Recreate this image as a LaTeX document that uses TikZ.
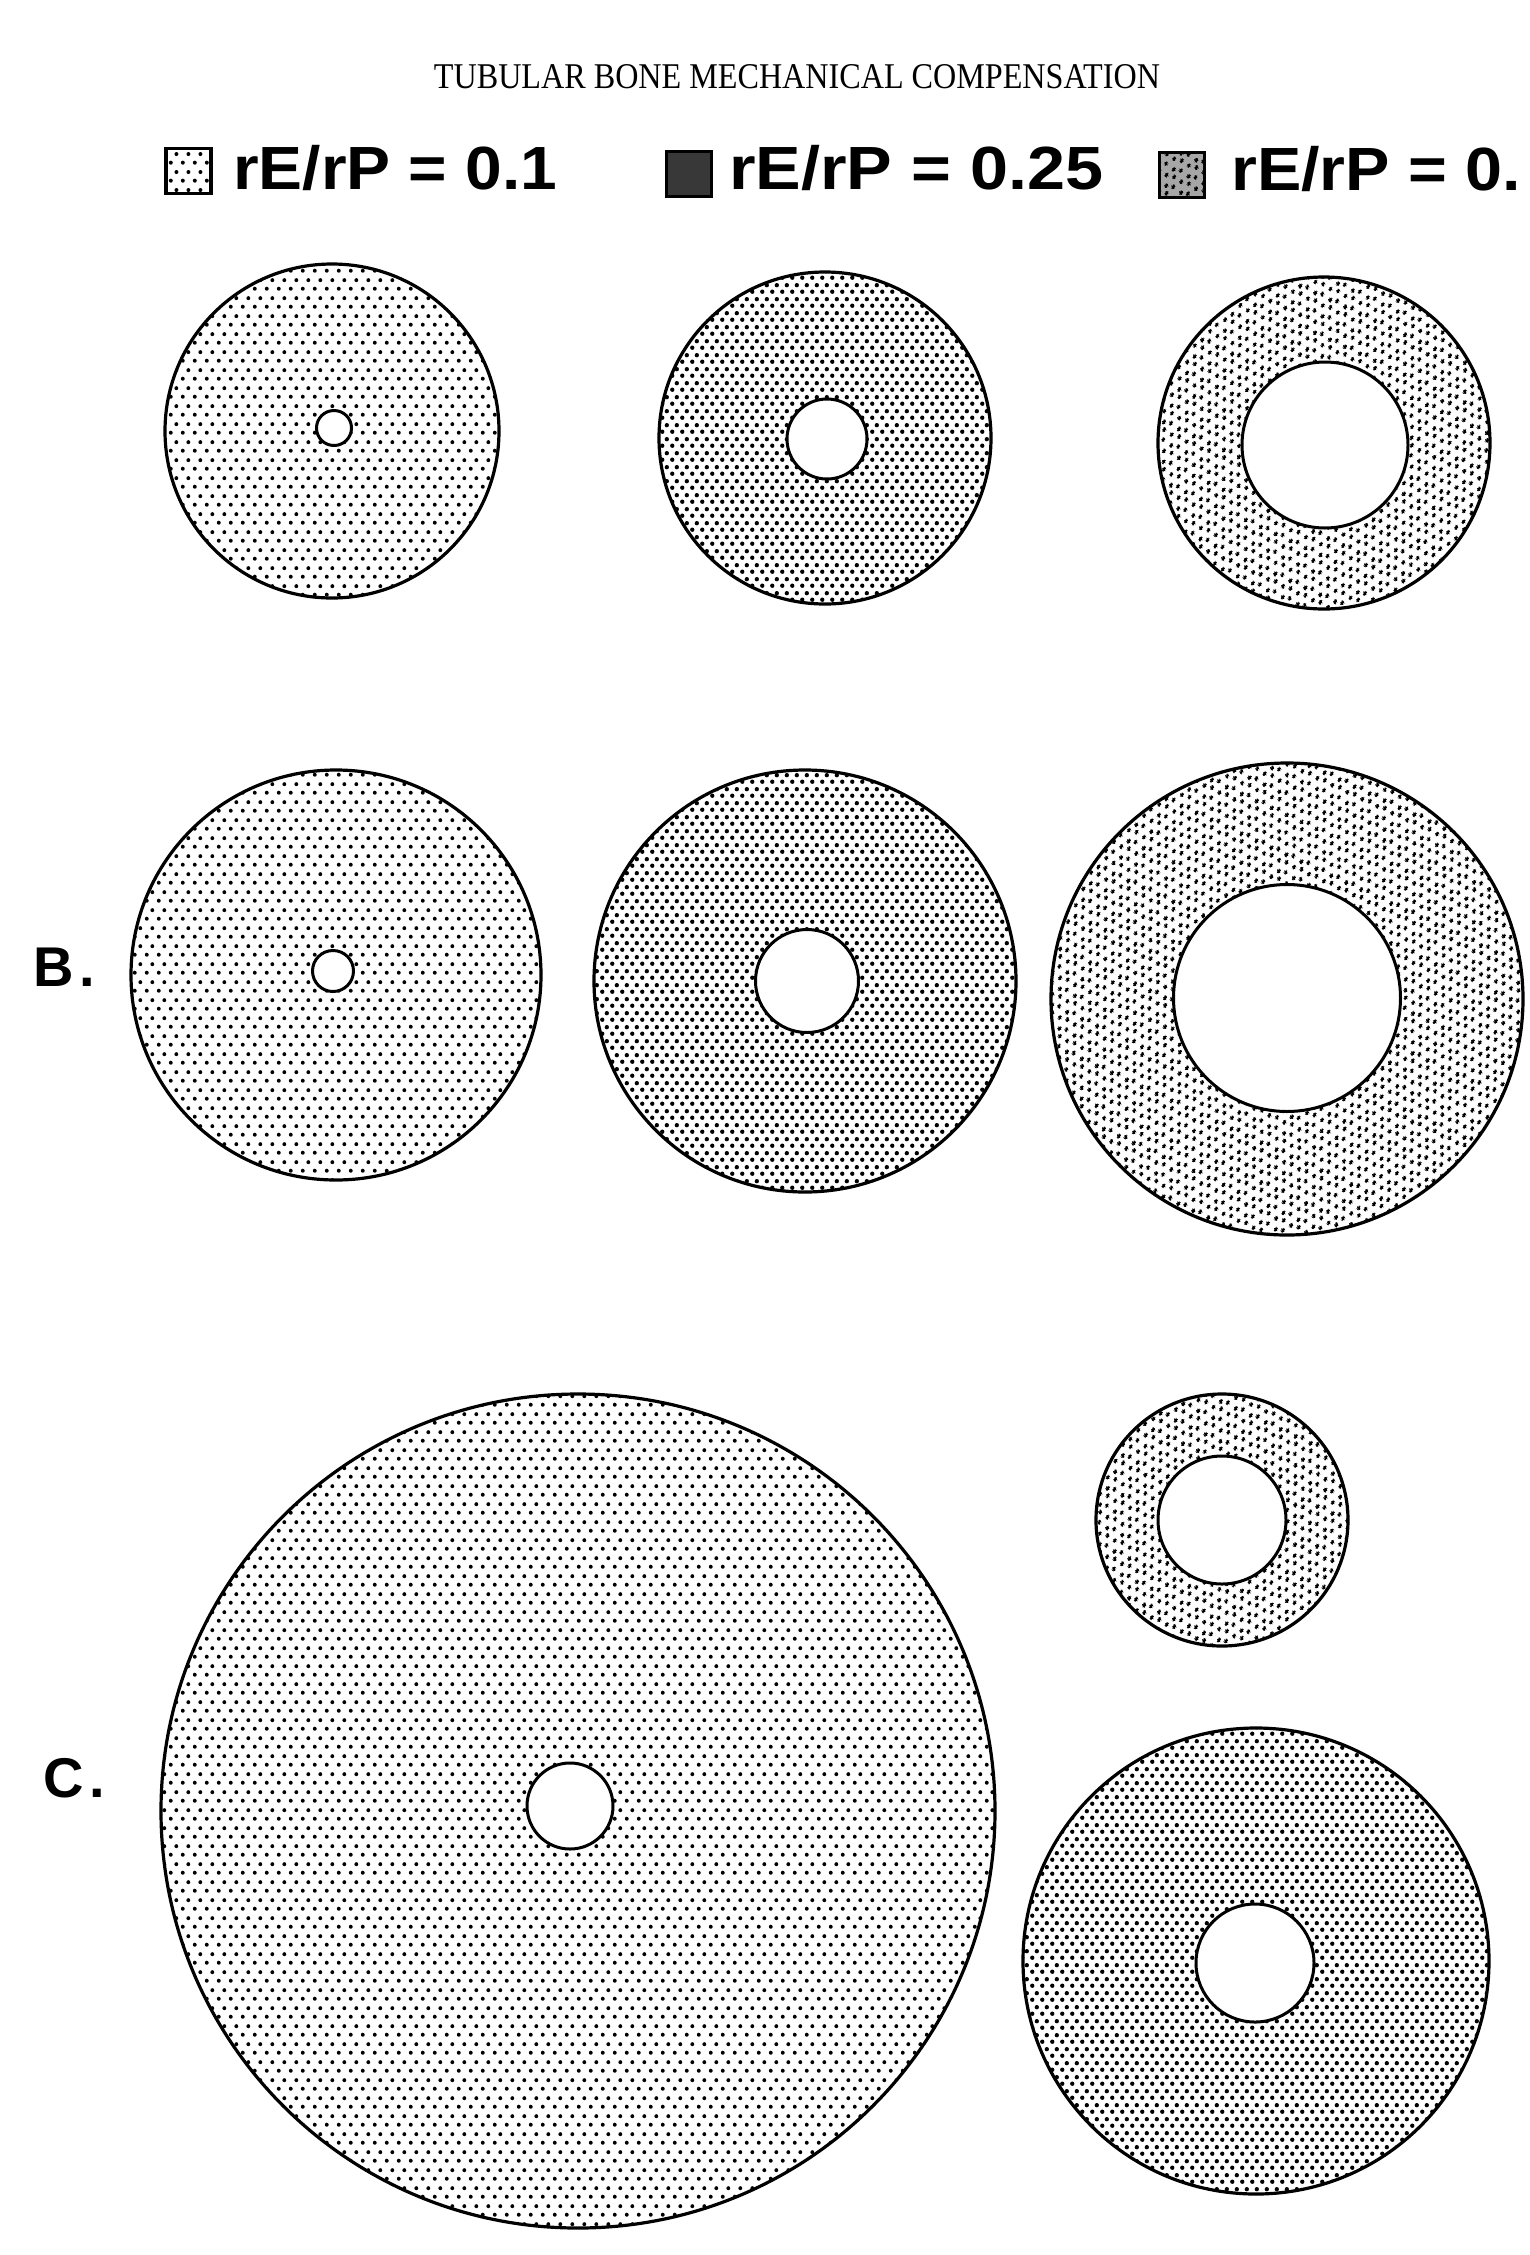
\documentclass[tikz,border=0pt]{standalone}
\usepackage{fontspec}
\usepackage{graphicx}
\newfontfamily\titlefont{Liberation Serif}
\newfontfamily\legfont{Liberation Sans}
\usetikzlibrary{patterns.meta}

\tikzdeclarepattern{
  name=sparsedots, type=uncolored,
  bottom left={(0pt,0pt)}, top right={(12pt,18pt)},
  tile size={(12pt,18pt)},
  code={\fill (3pt,4.5pt) circle (2.1pt); \fill (9pt,13.5pt) circle (2.1pt);}
}
\tikzdeclarepattern{
  name=densedots, type=uncolored,
  bottom left={(0pt,0pt)}, top right={(10pt,14pt)},
  tile size={(10pt,14pt)},
  code={\fill (2.5pt,3.5pt) circle (2.35pt); \fill (7.5pt,10.5pt) circle (2.35pt);}
}
\tikzdeclarepattern{
  name=mottled, type=uncolored,
  bottom left={(0pt,0pt)}, top right={(16pt,18pt)},
  tile size={(16pt,18pt)},
  tile transformation={rotate=-25},
  code={
    \fill (2pt,2.5pt) ellipse (1.8pt and 2.6pt);
    \fill (10pt,4pt) ellipse (1.8pt and 2.6pt);
    \fill (6.5pt,11pt) ellipse (1.8pt and 2.6pt);
    \fill (13.5pt,13pt) ellipse (1.8pt and 2.6pt);
  }
}

\tikzset{
  bone/.style={circle, draw=black, line width=3.2pt, inner sep=0pt, outer sep=0pt, minimum size=#1},
  hole/.style={circle, draw=black, fill=white, line width=3pt, inner sep=0pt, outer sep=0pt, minimum size=#1},
  ratioA/.style={pattern=sparsedots, pattern color=black},
  ratioB/.style={pattern=densedots, pattern color=black},
  ratioC/.style={pattern=mottled, pattern color=black},
  legbox/.style={rectangle, draw=black, line width=3.5pt, inner sep=0pt, minimum width=45pt, minimum height=45pt},
  legtext/.style={inner sep=0pt, anchor=base west, font=\legfont\bfseries\fontsize{61}{70}\selectfont},
  rowlabel/.style={inner sep=0pt, anchor=base west, font=\legfont\bfseries\fontsize{56}{66}\selectfont},
}

\begin{document}
\begin{tikzpicture}[x=1pt, y=-1pt]
\useasboundingbox[fill=white] (0,0) rectangle (1530,2255);

% title
\node[inner sep=0pt] (title) at (797,76.5)
  {\resizebox{726pt}{24pt}{\titlefont TUBULAR BONE MECHANICAL COMPENSATION}};

% legend
\node[legbox, ratioA] (k1) at (188.5,171) {};
\node[legtext] (t1) at (233,189) {\scalebox{1.08}[1]{rE/rP = 0.1}};
\node[legbox, fill=black!78] (k2) at (689,174) {};
\node[legtext] (t2) at (729,189) {\scalebox{1.12}[1]{rE/rP = 0.25}};
\node[legbox, preaction={fill=black!35}, ratioC] (k3) at (1182,175) {};
\node[legtext] (t3) at (1231,190) {\scalebox{1.09}[1]{rE/rP = 0.}};

% row A
\node[bone=334pt, ratioA] (a1) at (332,431) {};
\node[hole=35pt] (a1h) at (334,428) {};
\node[bone=332pt, ratioB] (a2) at (825,438) {};
\node[hole=80pt] (a2h) at (827,439) {};
\node[bone=332pt, ratioC] (a3) at (1324,443) {};
\node[hole=166pt] (a3h) at (1325,445) {};

% row B
\node[rowlabel] (lb) at (33,986) {B\hspace{6pt}.};
\node[bone=410pt, ratioA] (b1) at (336,975) {};
\node[hole=41pt] (b1h) at (333,971) {};
\node[bone=422pt, ratioB] (b2) at (805,981) {};
\node[hole=103pt] (b2h) at (807,981) {};
\node[bone=472pt, ratioC] (b3) at (1287,999) {};
\node[hole=227pt] (b3h) at (1287,998) {};

% row C
\node[rowlabel] (lc) at (43,1797) {C\hspace{6pt}.};
\node[bone=834pt, ratioA] (c1) at (578,1811) {};
\node[hole=86pt] (c1h) at (570,1806) {};
\node[bone=252pt, ratioC] (c2) at (1222,1520) {};
\node[hole=128pt] (c2h) at (1222,1520) {};
\node[bone=466pt, ratioB] (c3) at (1256,1961) {};
\node[hole=118pt] (c3h) at (1255,1963) {};
\end{tikzpicture}
\end{document}
